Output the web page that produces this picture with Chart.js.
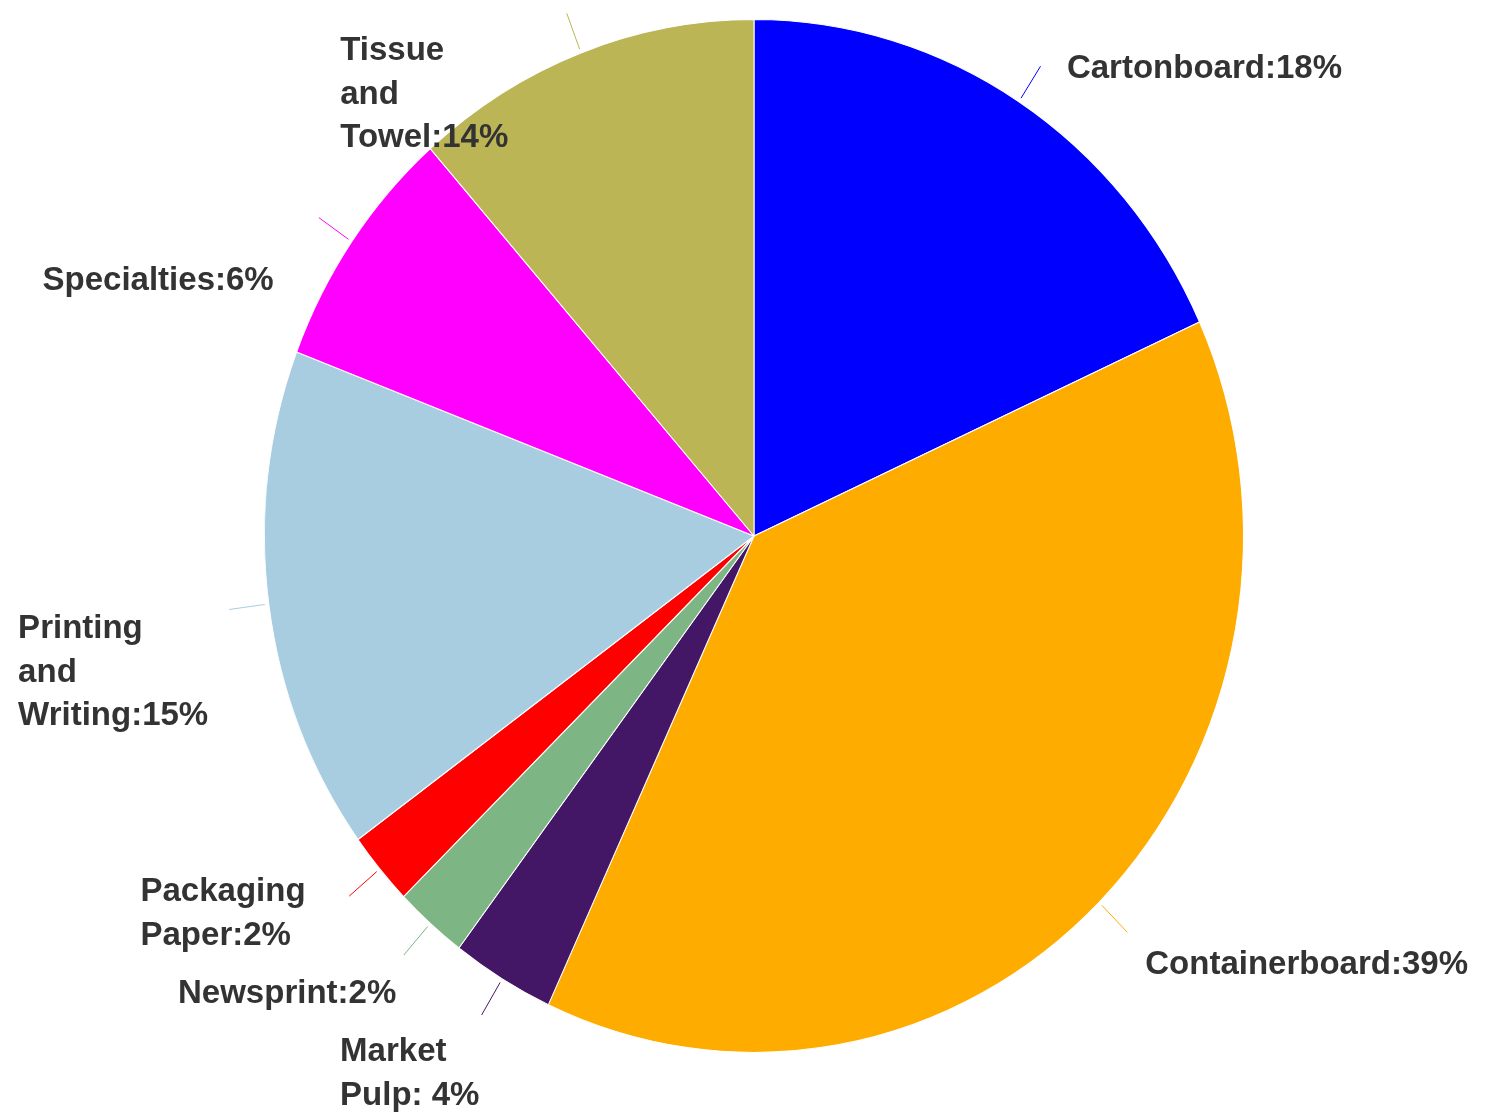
<!DOCTYPE html>
<html>
<head>
<meta charset="utf-8">
<script src="https://cdn.jsdelivr.net/npm/chart.js@4/dist/chart.umd.min.js"></script>
<style>
  html, body { margin:0; padding:0; background:#fff; }
  #wrap { width:1500px; height:1116px; }
</style>
</head>
<body>
<div id="wrap"><canvas id="pie"></canvas></div>
<script>
// slices clockwise from 12 o'clock
const categories = ["Cartonboard", "Containerboard", "Market Pulp", "Newsprint", "Packaging Paper",
                    "Printing and Writing", "Specialties", "Tissue and Towel"];
const shares = [18.2, 38.7, 3.4, 2.4, 2.3, 15.8, 7.7, 11.5];
const labelLines = [
  ["Cartonboard:18%"],
  ["Containerboard:39%"],
  ["Market", "Pulp: 4%"],
  ["Newsprint:2%"],
  ["Packaging", "Paper:2%"],
  ["Printing", "and", "Writing:15%"],
  ["Specialties:6%"],
  ["Tissue", "and", "Towel:14%"]
];
const colors = ["#0000ff", "#ffac00", "#431766", "#7db585", "#ff0000", "#a8cde1", "#ff00ff", "#bcb556"];
// nudges for label placement, px
const labelNudge = [[21, 12], [11, 25], [3, 50], [-1, 31], [-36, 11], [-11, 62], [-37, 69], [-55, 91]];
const yStretch = 1.055; // the original pie is slightly taller than wide

const stretchPlugin = {
  id: "stretch",
  beforeDatasetsDraw(chart) {
    const arc = chart.getDatasetMeta(0).data[0];
    const ctx = chart.ctx;
    ctx.save();
    ctx.translate(0, arc.y);
    ctx.scale(1, yStretch);
    ctx.translate(0, -arc.y);
  },
  afterDatasetsDraw(chart) { chart.ctx.restore(); }
};

const labelPlugin = {
  id: "outLabels",
  afterDraw(chart) {
    const ctx = chart.ctx;
    const arcs = chart.getDatasetMeta(0).data;
    ctx.save();
    ctx.font = "bold 33px 'Liberation Sans', Arial, sans-serif";
    ctx.fillStyle = "#333";
    ctx.textBaseline = "middle";
    const lh = 43.5;
    arcs.forEach((arc, i) => {
      const a = (arc.startAngle + arc.endAngle) / 2;
      const r = arc.outerRadius;
      const cx = arc.x, cy = arc.y;
      const cos = Math.cos(a), sin = Math.sin(a) * yStretch;
      ctx.strokeStyle = colors[i];
      ctx.lineWidth = 1;
      ctx.beginPath();
      ctx.moveTo(cx + cos * (r + 4), cy + sin * (r + 4));
      ctx.lineTo(cx + cos * (r + 40), cy + sin * (r + 40));
      ctx.stroke();
      const ax = cx + cos * (r + 50), ay = cy + sin * (r + 50);
      const lines = labelLines[i];
      const w = Math.max(...lines.map(t => ctx.measureText(t).width));
      const x0 = (cos >= 0 ? ax : ax - w) + labelNudge[i][0];
      const y0 = ay - (lines.length - 1) * lh / 2 + labelNudge[i][1];
      lines.forEach((t, k) => ctx.fillText(t, x0, y0 + k * lh));
    });
    ctx.restore();
  }
};

new Chart(document.getElementById("pie"), {
  type: "pie",
  data: {
    labels: categories,
    datasets: [{ data: shares, backgroundColor: colors, borderColor: "#fff", borderWidth: 1 }]
  },
  options: {
    responsive: true,
    maintainAspectRatio: false,
    animation: false,
    layout: { padding: { left: 264, right: 256, top: 46, bottom: 90 } },
    plugins: { legend: { display: false }, tooltip: { enabled: false } }
  },
  plugins: [stretchPlugin, labelPlugin]
});
</script>
</body>
</html>
